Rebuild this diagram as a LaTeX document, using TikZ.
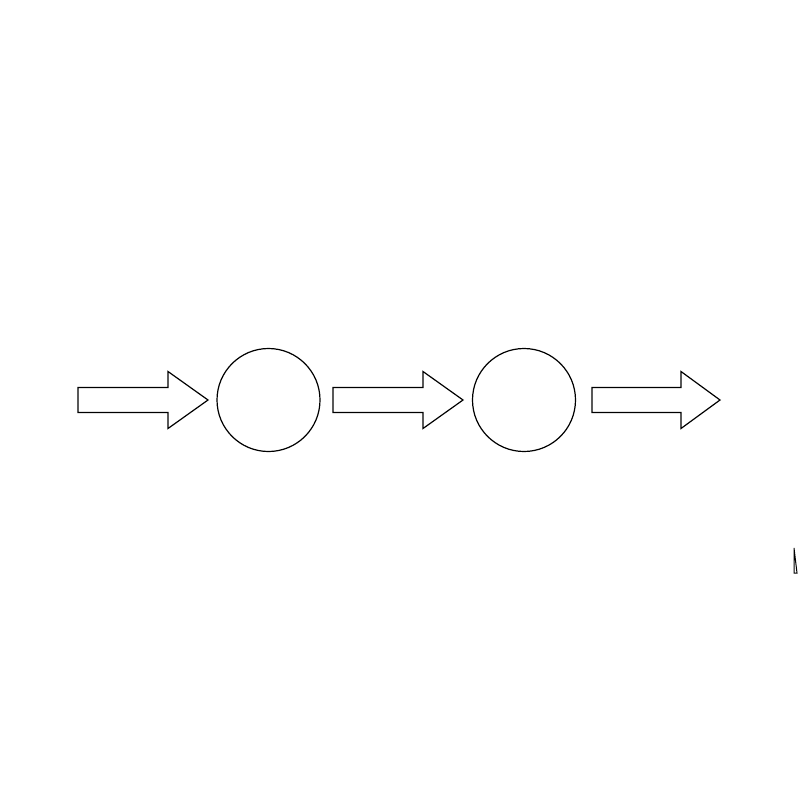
\documentclass[tikz,border=0pt]{standalone}
\tikzset{
  shapeline/.style={draw=black, line width=1.2pt, line join=miter, fill=white},
  blockarrow/.pic={
    \draw[shapeline] (0,-12.5) -- (#1,-12.5) -- (#1,-28.5) -- (#1+40,0) -- (#1,28.5) -- (#1,12.5) -- (0,12.5) -- cycle;
  }
}
\begin{document}
\begin{tikzpicture}[x=1pt,y=-1pt]
  \useasboundingbox (0,0) rectangle (800,800);
  \fill[white] (0,0) rectangle (800,800);
  % block arrows
  \draw[shapeline] (78,387.5) -- (168,387.5) -- (168,371.5) -- (208,400) -- (168,428.5) -- (168,412.5) -- (78,412.5) -- cycle;
  \draw[shapeline] (333,387.5) -- (423,387.5) -- (423,371.5) -- (463,400) -- (423,428.5) -- (423,412.5) -- (333,412.5) -- cycle;
  \draw[shapeline] (592,387.5) -- (681,387.5) -- (681,371.5) -- (720,400) -- (681,428.5) -- (681,412.5) -- (592,412.5) -- cycle;
  % circles
  \node[shapeline, circle, minimum size=103pt, inner sep=0pt] (c1) at (268.5,400) {};
  \node[shapeline, circle, minimum size=103pt, inner sep=0pt] (c2) at (524,400) {};
  % small stray mark
  \draw[line width=1pt] (794,548) -- (797,573) -- (794,573) -- cycle;
\end{tikzpicture}
\end{document}
